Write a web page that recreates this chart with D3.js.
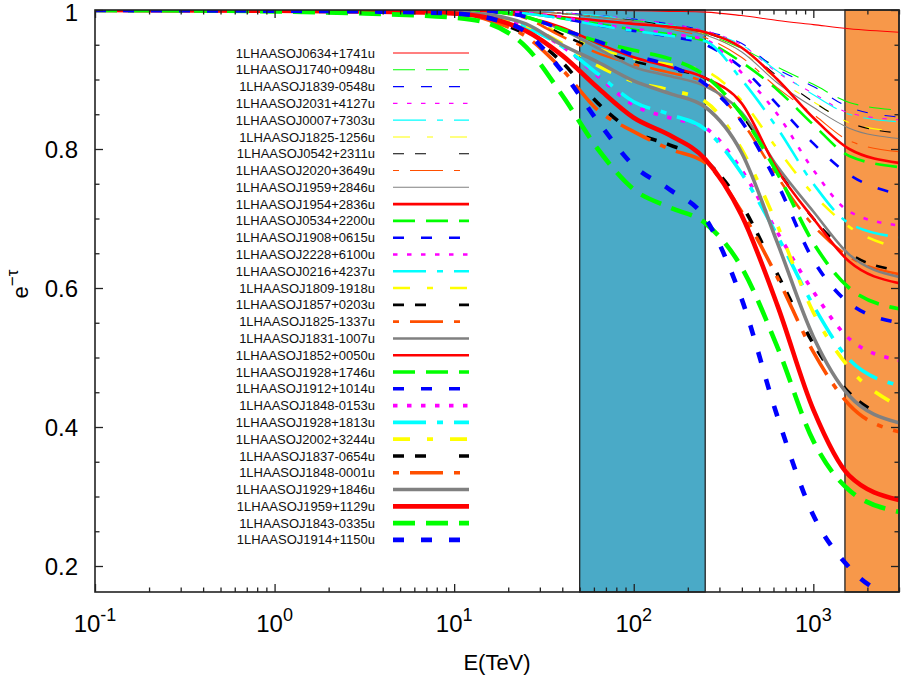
<!DOCTYPE html>
<html lang="en">
<head>
<meta charset="utf-8">
<title>e^-tau vs E</title>
<script src="https://cdn.jsdelivr.net/npm/d3@7"></script>
<style>
  html, body { margin: 0; padding: 0; background: #fff; }
  text { font-family: "Liberation Sans", Arial, Helvetica, sans-serif; }
</style>
</head>
<body>
<script>
// energy grid (TeV) shared by all curves
let energies = [0.1, 1, 3.16, 10, 15.8, 25.1, 39.8, 63.1, 100, 158, 251, 398, 631, 1000, 1585, 3000];

let sourceNames = [
  "1LHAASOJ0634+1741u", "1LHAASOJ1740+0948u", "1LHAASOJ1839-0548u", "1LHAASOJ2031+4127u",
  "1LHAASOJ0007+7303u", "1LHAASOJ1825-1256u", "1LHAASOJ0542+2311u", "1LHAASOJ2020+3649u",
  "1LHAASOJ1959+2846u", "1LHAASOJ1954+2836u", "1LHAASOJ0534+2200u", "1LHAASOJ1908+0615u",
  "1LHAASOJ2228+6100u", "1LHAASOJ0216+4237u", "1LHAASOJ1809-1918u", "1LHAASOJ1857+0203u",
  "1LHAASOJ1825-1337u", "1LHAASOJ1831-1007u", "1LHAASOJ1852+0050u", "1LHAASOJ1928+1746u",
  "1LHAASOJ1912+1014u", "1LHAASOJ1848-0153u", "1LHAASOJ1928+1813u", "1LHAASOJ2002+3244u",
  "1LHAASOJ1837-0654u", "1LHAASOJ1848-0001u", "1LHAASOJ1929+1846u", "1LHAASOJ1959+1129u",
  "1LHAASOJ1843-0335u", "1LHAASOJ1914+1150u"
];

// e^-tau values, one row per source, on the energy grid above
let survival = [
  [1,1,1,1,1,1,1,1,0.999,0.998,0.997,0.992,0.985,0.979,0.973,0.968],
  [1,1,1,1,0.999,0.998,0.995,0.99,0.985,0.978,0.965,0.945,0.918,0.893,0.867,0.856],
  [1,1,1,1,0.999,0.998,0.996,0.992,0.987,0.98,0.97,0.952,0.915,0.89,0.86,0.846],
  [1,1,1,1,0.999,0.998,0.996,0.992,0.987,0.98,0.97,0.95,0.91,0.88,0.852,0.842],
  [1,1,1,1,0.999,0.998,0.996,0.992,0.986,0.978,0.968,0.95,0.912,0.878,0.85,0.839],
  [1,1,1,1,0.999,0.998,0.995,0.99,0.984,0.975,0.965,0.94,0.90,0.868,0.838,0.825],
  [1,1,1,1,0.999,0.998,0.995,0.99,0.985,0.977,0.967,0.945,0.905,0.868,0.838,0.823],
  [1,1,1,1,0.999,0.998,0.995,0.99,0.983,0.973,0.96,0.932,0.888,0.85,0.812,0.796],
  [1,1,1,1,0.999,0.998,0.995,0.99,0.984,0.975,0.964,0.94,0.895,0.86,0.83,0.815],
  [1,1,1,1,0.999,0.996,0.99,0.985,0.98,0.976,0.968,0.946,0.90,0.845,0.80,0.78],
  [1,1,1,1,0.999,0.995,0.988,0.98,0.972,0.965,0.955,0.925,0.885,0.835,0.79,0.774],
  [1,1,1,1,0.999,0.995,0.988,0.978,0.97,0.962,0.95,0.917,0.864,0.808,0.763,0.735],
  [1,1,1,1,0.999,0.996,0.99,0.98,0.973,0.966,0.957,0.91,0.85,0.77,0.71,0.69],
  [1,1,1,1,0.999,0.995,0.988,0.978,0.97,0.963,0.955,0.90,0.83,0.75,0.693,0.673],
  [1,1,1,1,0.998,0.99,0.965,0.945,0.93,0.922,0.912,0.87,0.80,0.735,0.688,0.657],
  [1,1,1,1,0.998,0.99,0.965,0.942,0.926,0.915,0.902,0.85,0.77,0.70,0.65,0.625],
  [1,1,1,1,0.998,0.988,0.962,0.938,0.922,0.91,0.895,0.84,0.76,0.69,0.645,0.62],
  [1,1,1,1,0.999,0.99,0.972,0.945,0.918,0.905,0.89,0.853,0.775,0.71,0.648,0.616],
  [1,1,1,1,0.998,0.99,0.975,0.952,0.932,0.918,0.902,0.866,0.77,0.70,0.638,0.607],
  [1,1,1,1,0.998,0.99,0.972,0.955,0.942,0.93,0.905,0.85,0.765,0.665,0.60,0.57],
  [1,1,1,1,0.998,0.99,0.972,0.955,0.935,0.92,0.893,0.84,0.75,0.64,0.578,0.55],
  [1,1,1,0.996,0.99,0.975,0.948,0.905,0.863,0.845,0.83,0.77,0.68,0.595,0.527,0.496],
  [1,1,1,0.996,0.99,0.975,0.948,0.908,0.868,0.85,0.828,0.765,0.675,0.575,0.497,0.46],
  [1,1,1,0.997,0.992,0.978,0.952,0.92,0.897,0.885,0.868,0.80,0.69,0.565,0.485,0.43],
  [1,1,1,0.995,0.985,0.965,0.925,0.866,0.825,0.806,0.783,0.72,0.62,0.52,0.449,0.41],
  [1,1,1,0.995,0.985,0.962,0.915,0.856,0.825,0.80,0.78,0.71,0.615,0.508,0.432,0.393],
  [1,1,1,0.997,0.993,0.98,0.95,0.925,0.898,0.88,0.86,0.795,0.665,0.53,0.445,0.406],
  [1,0.999,0.998,0.995,0.988,0.97,0.935,0.888,0.845,0.82,0.785,0.705,0.575,0.425,0.33,0.295],
  [1,0.998,0.995,0.989,0.98,0.947,0.878,0.80,0.742,0.716,0.693,0.63,0.515,0.38,0.309,0.278],
  [1,0.999,0.998,0.995,0.988,0.968,0.912,0.84,0.776,0.742,0.70,0.585,0.415,0.273,0.198,0.15]
];

// energy bands shaded in the plot (TeV)
let bands = [
  { from: 50, to: 250, color: "#4aaac7" },
  { from: 1500, to: 3000, color: "#f7984a" }
];

let yTickValues = [0.2, 0.4, 0.6, 0.8, 1];
let xTickExponents = [-1, 0, 1, 2, 3];

// gnuplot-like line types: colour and dash cycle every 9 curves
let lineColors = ["#ff0000", "#00ff00", "#0000ff", "#ff00ff", "#00ffff", "#ffff00", "#000000", "#ff4f00", "#808080"];
let lineDashes = [null, "22,11", "11,17", "4.5,9.5", "33,11,6,11", "17,17,6,17", "11,11,11,33", "6,11,33,11", null];

function lineWidth(i) {
  if (i < 9) return 1.1;
  if (i < 19) return 2.6;
  if (i < 27) return 3.6;
  return 4.6;
}

let w = 901, h = 677;
let mLeft = 95, mRight = 899, mTop = 10, mBottom = 592;

let svg = d3.select("body").append("svg")
  .attr("width", w)
  .attr("height", h);

svg.append("rect").attr("width", w).attr("height", h).attr("fill", "#fff");

let x = d3.scaleLog().domain([0.1, 3000]).range([mLeft, mRight]);
let y = d3.scaleLinear().domain([0.1626, 1]).range([mBottom, mTop]);

svg.append("clipPath").attr("id", "plotclip")
  .append("rect")
  .attr("x", mLeft).attr("y", mTop)
  .attr("width", mRight - mLeft).attr("height", mBottom - mTop);

// shaded bands
svg.append("g").selectAll("rect")
  .data(bands)
  .enter()
  .append("rect")
  .attr("x", d => x(d.from))
  .attr("y", mTop)
  .attr("width", d => x(d.to) - x(d.from))
  .attr("height", mBottom - mTop)
  .attr("fill", d => d.color)
  .attr("stroke", "#222")
  .attr("stroke-width", 1.3);

// curves
let line = d3.line()
  .x((d, i) => x(energies[i]))
  .y(d => y(d))
  .curve(d3.curveMonotoneX);

svg.append("g").attr("clip-path", "url(#plotclip)")
  .selectAll("path")
  .data(survival)
  .enter()
  .append("path")
  .attr("d", d => line(d))
  .attr("fill", "none")
  .attr("stroke", (d, i) => lineColors[i % 9])
  .attr("stroke-width", (d, i) => lineWidth(i))
  .attr("stroke-dasharray", (d, i) => lineDashes[i % 9]);

// legend
let legend = svg.append("g");
let rowY = i => 53 + i * 16.79;

legend.selectAll("text")
  .data(sourceNames)
  .enter()
  .append("text")
  .attr("x", 375)
  .attr("y", (d, i) => rowY(i))
  .attr("dy", "0.35em")
  .attr("text-anchor", "end")
  .attr("font-size", "13px")
  .attr("fill", "#111")
  .text(d => d);

legend.selectAll("line")
  .data(sourceNames)
  .enter()
  .append("line")
  .attr("x1", 393).attr("x2", 469)
  .attr("y1", (d, i) => rowY(i)).attr("y2", (d, i) => rowY(i))
  .attr("stroke", (d, i) => lineColors[i % 9])
  .attr("stroke-width", (d, i) => lineWidth(i))
  .attr("stroke-dasharray", (d, i) => lineDashes[i % 9]);

// ticks on all four sides, pointing inwards
let xMajor = xTickExponents.map(e => Math.pow(10, e));
let xMinor = [];
xTickExponents.forEach(e => {
  for (let k = 2; k <= 9; k++) {
    let v = k * Math.pow(10, e);
    if (v <= 3000) xMinor.push(v);
  }
});
let yMinor = d3.range(0.25, 1, 0.05).map(v => +v.toFixed(2)).filter(v => yTickValues.indexOf(v) < 0);

function ticks(axis, values, size, transform) {
  let g = svg.append("g")
    .attr("transform", transform)
    .call(axis.tickValues(values).tickSize(size).tickFormat(""));
  g.select(".domain").remove();
  g.selectAll("line").attr("stroke", "#222").attr("stroke-width", 1.3);
}

ticks(d3.axisBottom(x), xMajor, -8, "translate(0," + mBottom + ")");
ticks(d3.axisBottom(x), xMinor, -4.5, "translate(0," + mBottom + ")");
ticks(d3.axisTop(x), xMajor, -8, "translate(0," + mTop + ")");
ticks(d3.axisTop(x), xMinor, -4.5, "translate(0," + mTop + ")");
ticks(d3.axisLeft(y), yTickValues, -8, "translate(" + mLeft + ",0)");
ticks(d3.axisLeft(y), yMinor, -4.5, "translate(" + mLeft + ",0)");
ticks(d3.axisRight(y), yTickValues, -8, "translate(" + mRight + ",0)");
ticks(d3.axisRight(y), yMinor, -4.5, "translate(" + mRight + ",0)");

// frame
svg.append("rect")
  .attr("x", mLeft).attr("y", mTop)
  .attr("width", mRight - mLeft).attr("height", mBottom - mTop)
  .attr("fill", "none")
  .attr("stroke", "#222")
  .attr("stroke-width", 1.6);

// tick labels (the top label is nudged down so it stays inside the page)
svg.append("g").selectAll("text")
  .data(yTickValues)
  .enter()
  .append("text")
  .attr("x", 78)
  .attr("y", d => d === 1 ? y(d) + 2 : y(d))
  .attr("dy", "0.36em")
  .attr("text-anchor", "end")
  .attr("font-size", "24px")
  .text(d => d === 1 ? "1" : d3.format(".1f")(d));

let xl = svg.append("g").selectAll("text")
  .data(xTickExponents)
  .enter()
  .append("text")
  .attr("x", d => x(Math.pow(10, d)))
  .attr("y", 632)
  .attr("text-anchor", "middle")
  .attr("font-size", "24px");
xl.append("tspan").text("10");
xl.append("tspan")
  .attr("dy", -11)
  .attr("font-size", "18px")
  .text(d => d < 0 ? "-" + (-d) : String(d));

// axis titles
svg.append("text")
  .attr("x", 497)
  .attr("y", 670)
  .attr("text-anchor", "middle")
  .attr("font-size", "22px")
  .text("E(TeV)");

let yt = svg.append("text")
  .attr("transform", "translate(28,284) rotate(-90)")
  .attr("text-anchor", "middle")
  .attr("font-size", "22px");
yt.append("tspan").text("e");
yt.append("tspan").attr("dy", -10).attr("font-size", "17px").text("\u2212\u03c4");
</script>
</body>
</html>
